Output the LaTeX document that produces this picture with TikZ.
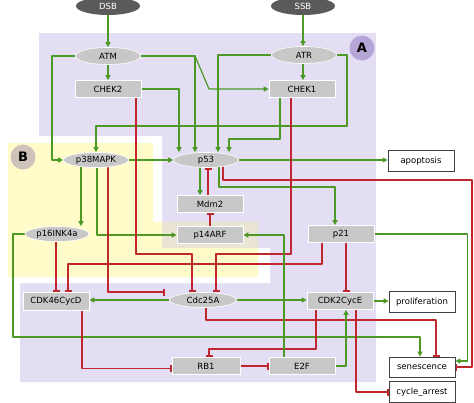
\documentclass[tikz,border=0pt]{standalone}
\usepackage{fontspec}
\setmainfont{DejaVu Sans}
\usetikzlibrary{arrows.meta,calc,shapes.geometric}

\definecolor{grn}{HTML}{4C9926}
\definecolor{rd}{HTML}{C0262D}
\definecolor{zoneA}{HTML}{E4DEF5}
\definecolor{zoneB}{HTML}{FFFCC9}
\definecolor{zoneAB}{HTML}{E9E4D4}
\definecolor{nodegray}{HTML}{C8C8C8}
\definecolor{stressgray}{HTML}{5A5A5A}
\definecolor{tagA}{HTML}{B6A6D8}
\definecolor{tagB}{HTML}{CDC3BB}

\pgfdeclarelayer{back}
\pgfdeclarelayer{wires}
\pgfsetlayers{back,wires,main}

\tikzset{
  genebox/.style={rectangle, fill=nodegray, draw=white, line width=0.6pt,
    minimum width=66pt, minimum height=17pt, inner sep=0pt},
  geneoval/.style={ellipse, fill=nodegray, draw=white, line width=0.6pt,
    minimum width=65pt, minimum height=15pt, inner sep=0pt},
  stress/.style={ellipse, fill=stressgray, text=white,
    minimum width=64pt, minimum height=18pt, inner sep=0pt},
  outcome/.style={rectangle, fill=white, draw=black!75, line width=0.8pt,
    minimum width=66pt, minimum height=21pt, inner sep=0pt},
  tag/.style={circle, minimum size=25pt, inner sep=0pt,
    font=\fontsize{13}{13}\selectfont\bfseries},
  act/.style={grn, line width=1.2pt, line join=round, -{Triangle[length=5pt,width=5pt]}},
  inh/.style={rd, line width=1.2pt, line join=round, -{Bar[width=7pt,line width=1.8pt]}}
}

\begin{document}
\begin{tikzpicture}[x=1pt, y=-1pt, font=\fontsize{8.5}{10}\selectfont]

    \useasboundingbox (0,0) rectangle (474,402);

    \node[stress] (DSB) at (108,6) {DSB};
    \node[stress] (SSB) at (303,6) {SSB};
    \node[geneoval, minimum height=17pt] (ATM) at (108,56) {ATM};
    \node[geneoval, minimum height=17pt] (ATR) at (304,55) {ATR};
    \node[genebox] (CHEK2) at (108,89) {CHEK2};
    \node[genebox] (CHEK1) at (302,89) {CHEK1};
    \node[geneoval] (p38MAPK) at (96,160) {p38MAPK};
    \node[geneoval] (p53) at (206,160) {p53};
    \node[outcome] (apoptosis) at (421,161) {apoptosis};
    \node[genebox] (Mdm2) at (210,204) {Mdm2};
    \node[genebox] (p14ARF) at (210,235) {p14ARF};
    \node[geneoval, minimum width=64pt] (p16INK4a) at (57,234) {p16INK4a};
    \node[genebox] (p21) at (341,234) {p21};
    \node[genebox, minimum height=18pt] (CDK46CycD) at (56,301) {CDK46CycD};
    \node[geneoval, minimum width=67pt] (Cdc25A) at (203,300) {Cdc25A};
    \node[genebox] (CDK2CycE) at (340,301) {CDK2CycE};
    \node[outcome] (proliferation) at (422,302) {proliferation};
    \node[genebox, minimum width=68pt] (RB1) at (206,366) {RB1};
    \node[genebox] (E2F) at (302,366) {E2F};
    \node[outcome, minimum height=20pt] (senescence) at (422,367) {senescence};
    \node[outcome] (cyclearrest) at (422,392) {cycle\_arrest};

    \node[tag, fill=tagA] (labelA) at (362,48) {A};
    \node[tag, fill=tagB] (labelB) at (23,157) {B};

    \begin{pgfonlayer}{back}
    \fill[zoneA] (39,33) -- (376,33) -- (376,382) -- (20,382) -- (20,283) -- (39,283) -- cycle;
    \fill[white] (0,136) -- (162,136) -- (162,248) -- (270,248) -- (270,283) -- (0,283) -- cycle;
    \fill[zoneB] (8,143) -- (153,143) -- (153,222) -- (162,222) -- (162,248) -- (258,248) -- (258,277) -- (8,277) -- cycle;
    \fill[zoneAB] (162,222) rectangle (258,248);
    \end{pgfonlayer}

    \begin{pgfonlayer}{wires}
    \draw[act] (DSB.south) -- (ATM.north);
    \draw[act] (SSB.south) -- (SSB.south |- ATR.north);
    \draw[act] (ATM.south) -- (CHEK2.north);
    \draw[act] (303,0 |- ATR.south) -- (303,0 |- CHEK1.north);

    \draw[act] (ATM.west) -| (52,0 |- p38MAPK.west) -- (p38MAPK.west);
    \draw[act] (ATM.east) -- (195,0 |- ATM.east) -- (209,0 |- CHEK1.west) -- (CHEK1.west);
    \draw[act] (ATM.east) -| (195,0 |- p53.north);
    \draw[act] (CHEK2.east) -| (179,0 |- p53.north);
    \draw[act] (ATR.west) -| (218,0 |- p53.north);
    \draw[act] (280,0 |- CHEK1.south) |- (229,139) -- (229,0 |- p53.north);
    \draw[act] (ATR.east) -| (347,126) -| (96,0 |- p38MAPK.north);

    \draw[act] (p38MAPK.east) -- (p53.west);
    \draw[act] (81,0 |- p38MAPK.center) -- (81,0 |- p16INK4a.north);
    \draw[act] (97,0 |- p38MAPK.center) |- (p14ARF.west);
    \draw[inh] (108,0 |- p38MAPK.center) |- ($(Cdc25A.west)+(-4,-8)$);

    \draw[act] (p53.east) -- (p53.east -| apoptosis.west);
    \draw[act] (200,0 |- p53.center) -- (200,0 |- Mdm2.north);
    \draw[inh] (208,0 |- Mdm2.north) -- (208,0 |- p53.south);
    \draw[inh] (p14ARF.north) -- (Mdm2.south);
    \draw[act] (219,0 |- p53.center) |- (335,187) -- (335,0 |- p21.north);
    \draw[inh] (223,0 |- p53.center) |- (472,180) |- (senescence.east);

    \draw[inh] (136,0 |- CHEK2.south) |- (192,254) -- (192,0 |- Cdc25A.north);
    \draw[inh] (291,0 |- CHEK1.south) |- (216,254) -- (216,0 |- Cdc25A.north);
    \draw[inh] (322,0 |- p21.south) |- (68,264) -- (68,0 |- CDK46CycD.north);
    \draw[inh] (346,0 |- p21.south) -- (346,0 |- CDK2CycE.north);
    \draw[act] (p21.east) -| ($(senescence.east)+(12,-6)$) -- ($(senescence.east)+(0,-6)$);
    \draw[inh] (56,0 |- p16INK4a.center) -- (56,0 |- CDK46CycD.north);
    \draw[act] (p16INK4a.west) -| (13,337) -| (420,0 |- senescence.north);

    \draw[act] (Cdc25A.west) -- (Cdc25A.west -| CDK46CycD.east);
    \draw[act] (Cdc25A.east) -- (Cdc25A.east -| CDK2CycE.west);
    \draw[inh] (206,0 |- Cdc25A.center) |- (436,320) -- (436,0 |- senescence.north);
    \draw[act] (CDK2CycE.east) -- (CDK2CycE.east -| proliferation.west);
    \draw[inh] (316,0 |- CDK2CycE.south) |- (209,349) -- (209,0 |- RB1.north);
    \draw[inh] (356,0 |- CDK2CycE.south) |- (cyclearrest.west);
    \draw[inh] (82,0 |- CDK46CycD.south) |- ($(RB1.west)+(0,2.5)$);

    \draw[inh] (RB1.east) -- (E2F.west);
    \draw[act] (284,0 |- E2F.north) |- (p14ARF.east);
    \draw[act] (E2F.east) -| (346,0 |- CDK2CycE.south);
    \end{pgfonlayer}

\end{tikzpicture}
\end{document}
